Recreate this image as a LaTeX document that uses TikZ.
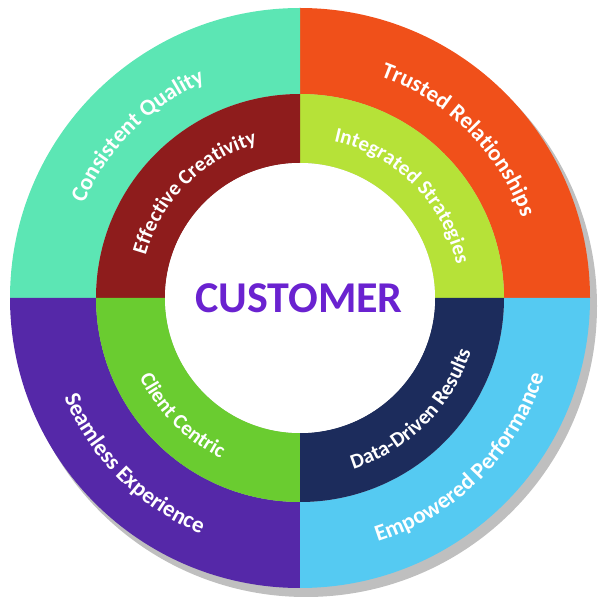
\documentclass[tikz,border=0pt]{standalone}
\usepackage{fontspec}
\setmainfont{Carlito}
\usetikzlibrary{decorations.text}
\definecolor{cTLo}{HTML}{5CE6B4}
\definecolor{cTRo}{HTML}{F0501A}
\definecolor{cBLo}{HTML}{5528A8}
\definecolor{cBRo}{HTML}{55CAF2}
\definecolor{cTLi}{HTML}{8E1C1C}
\definecolor{cTRi}{HTML}{B6E238}
\definecolor{cBLi}{HTML}{6ACC30}
\definecolor{cBRi}{HTML}{1C2C5C}
\definecolor{cust}{HTML}{6A22D0}
\tikzset{
 arcO/.style={postaction={decorate},decoration={text along path,text align=center,text color=white,text={|\fontsize{23}{23}\selectfont\bfseries|#1}}},
 arcI/.style={postaction={decorate},decoration={text along path,text align=center,text color=white,text={|\fontsize{21}{21}\selectfont\bfseries|#1}}}
}
\newcommand{\sector}[4]{\fill[#1] (#2:#3) arc[start angle=#2,end angle=#2+90,radius=#3] -- (#2+90:#4) arc[start angle=#2+90,end angle=#2,radius=#4] -- cycle;}
\begin{document}
\begin{tikzpicture}[x=1pt,y=1pt]
\useasboundingbox (0,0) rectangle (600,600);
\begin{scope}[shift={(300,302)}]
\fill[black!25] (6,-8) circle (291);
\sector{cTRo}{0}{290}{204}
\sector{cTLo}{90}{290}{204}
\sector{cBLo}{180}{290}{204}
\sector{cBRo}{270}{290}{204}
\sector{cTRi}{0}{204}{135}
\sector{cTLi}{90}{204}{135}
\sector{cBLi}{180}{204}{135}
\sector{cBRi}{270}{204}{135}
\fill[white] (0,0) circle (135);
\path[arcO={Consistent Quality}] (165:236) arc[start angle=165,end angle=105,radius=236];
\path[arcO={Trusted Relationships}] (77:236) arc[start angle=77,end angle=13,radius=236];
\path[arcO={Seamless Experience}] (193:256) arc[start angle=193,end angle=257,radius=256];
\path[arcO={Empowered Performance}] (280:256) arc[start angle=280,end angle=350,radius=256];
\path[arcI={Effective Creativity}] (172:160) arc[start angle=172,end angle=98,radius=160];
\path[arcI={Integrated Strategies}] (84:160) arc[start angle=84,end angle=6,radius=160];
\path[arcI={Client Centric}] (192:179) arc[start angle=192,end angle=258,radius=179];
\path[arcI={Data-Driven Results}] (275:179) arc[start angle=275,end angle=355,radius=179];
\node[text=cust,font=\fontsize{44}{44}\selectfont\bfseries] (c) at (-1,0) {CUSTOMER};
\end{scope}
\end{tikzpicture}
\end{document}
